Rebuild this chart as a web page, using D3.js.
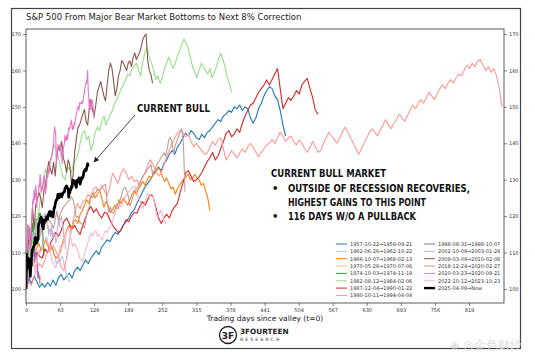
<!DOCTYPE html>
<html>
<head>
<meta charset="utf-8">
<script src="https://cdn.jsdelivr.net/npm/d3@7/dist/d3.min.js"></script>
<style>
html,body{margin:0;padding:0;background:#fff;}
svg{display:block;}
text{font-family:"DejaVu Sans",sans-serif;}
</style>
</head>
<body>
<svg id="chart" width="535" height="361"></svg>
<script>
// ---------------- DATA ----------------
const xTicks=[0,63,126,189,252,315,378,441,504,567,630,693,756,819];
const yTicks=[100,110,120,130,140,150,160,170];
const seriesLabels=[
 "1957-10-22\u21921959-09-21","1962-06-26\u21921962-10-22","1966-10-07\u21921968-02-13","1970-05-26\u21921970-07-06",
 "1974-10-03\u21921974-11-19","1982-08-12\u21921984-02-06","1987-12-04\u21921990-01-22","1990-10-11\u21921994-04-04",
 "1998-08-31\u21921998-10-07","2002-10-09\u21922003-01-24","2009-03-09\u21922010-02-08","2018-12-24\u21922020-02-27",
 "2020-03-23\u21922020-09-21","2022-10-12\u21922023-10-23","2025-04-08\u2192Now"];
// trading days between consecutive samples of each series
const sampleStep=[5,2,4,1,1,4,5,5,1,1,3,3,1,3,1];

const v1957=[100,103,101.5,103.5,102,100.5,101.5,100.5,101.8,100.8,
102.5,101,103,104,102.5,103.5,104.4,103,105,106,
105,106.5,108,107,108.5,109.5,110.5,109.5,111.5,112.5,
113.5,113,114.5,115.5,115,116.2,117.5,118.5,119.5,121,
121.7,123.5,125,126.5,128,129,130,131.5,132.6,133.5,
132.5,134.5,135.4,137,138,137,139,140,141.5,142.8,
142,143.5,142.7,141.5,141,142.5,141.5,143,143.5,144.5,
145.5,146.5,146,147.5,148,149,148.5,150,149.5,150.5,
149,150,149.5,147,145.5,147,149.5,151,153,154.5,
155.5,155,153,152,149,145,142];
const v1962=[100,104,103.5,105,107,106,108.5,110.5,108.5,107.5,
109,110.5,109.5,111,110.5,112,113,112,113.5,114.3,
113,111.5,110.5,111.5,112,111,109.5,108.5,107,107.5,
108.5,107.5,108,109,108.5,107,106,104.5,104,103,102,102.3];
const v1966=[100,103.5,107,110.5,109,111.5,112.5,110.5,112,113.5,
112,110.5,111.5,109.5,108.5,109,110.5,113,114.5,116.5,
117.5,116,118.5,119,118,120.5,121.5,123,124.4,123.5,
125.5,126.5,125,126,127.2,125,122.5,124,123,121,
121.7,123,122,124.5,123.5,125,124,123,124.4,126,
127,126,127.5,128.5,129.5,128.5,130,131,130.5,131.5,
132,133.3,132.6,131,129.5,130.5,129,127.5,128,126,
127.5,128.5,129.5,130,130.8,131.5,130,130.5,131.5,130.5,
130,128.5,129,127,125,121.5];
const v1970=[100,105,107.5,110.5,112.3,111.5,110.5,111.2,109.5,110,108.8,110.5,111.5,112,112.6,110,108,106,106.5,105.5,105.2,104.5,103.8,104.5,103.5,103,103.6,102.5];
const v1974=[100,100.1,104.3,104.1,108.9,112.1,114.2,116.8,112.9,111,111.5,114,118,117,112.8,109.7,112.5,113.2,116.9,119.3,118.7,118.6,117.4,120.6,120,120.8,120.3,120.7,118.3,117.8,116.9,115.4,111.2,109];
const v1982=[100,108,110.5,112.5,115.5,117,122,126.5,130,133,
130.5,134.5,137,139.5,138,136,133.5,131,130,132.5,
133.5,132,134.5,135.5,137,140,142.6,143.5,141,142,
138,140,143,144.5,143.5,146,147.5,145,146.5,148,
149,151,152,153.5,155,156,157.5,159,158.5,160.5,
161,162,160,158.5,162.5,165,166.5,163.5,162,160,
157.5,158.5,156.5,158,160.5,162,163.7,162,160.5,162,
164,165.5,167,168.6,167.5,166,163.5,161,159.5,158,
160,162,161,160,159,160.5,158,159.5,161,163,
164.7,163,161,158,156.5,154];
const v1987=[100,104,106.5,108,110,109,108.5,111,110,112.5,
114,115.5,114.5,116,118.5,119.5,118,116.5,117.5,116,
115,117.5,119.5,121.5,122.6,121,122,120.5,119.5,121,
120.8,119,117.5,116.5,115.5,116,117.5,119,118.5,120,
121,120.8,122.5,124,123,124.5,126,125.3,122.5,119.5,
118,119.5,120.5,119.5,121.5,122.6,123.5,126.5,129,131.8,
132.5,131,129.5,130,130.8,132,133.5,135,136,137.5,
135.4,136.5,138.5,140.5,142.7,143.5,141.8,142.5,144,143,
145.5,147.5,149,150.5,151,152.5,154,155,156,157.4,
156,157.5,159,160.5,155,149.5,151,152.5,151.8,153,
154.5,153.5,156,157,157.8,155,152.5,149,148];
const v1990=[100,102,101,103.5,105.5,107,106,108,110.5,111.5,
112,110.5,109,106,105,108.5,113,117,121,123.5,
122,124,124.4,126,125,127.5,128,126.5,128.5,127,
125.5,128,131.8,130.5,129,131.5,133,132,130,131,
129.5,130,128.5,130.5,132,134,135.5,134,132.5,131,
131.8,134,136.5,138,140,141.5,142.8,143.6,143,141.8,
142.5,140.5,139,140,139,138,137,137.3,139,140.5,
139.5,141,141.5,138.5,135.4,136.5,138,137,136,137.3,
138.5,137.5,139,140,139,137.5,136.3,137.5,138.5,139.5,
140,141,140,141.5,143,142,140.5,141.5,142,140.5,
139.5,141,140,138.5,137.5,139,140.5,139,137.5,138,
140,141.5,143,142,141,140,141.5,143,144.5,143,
141.5,140,138.5,137,138.5,140,141.5,143,144,143,
142,143.5,145,146.5,145,144,145.5,146.5,148,147,
146,147.5,149,150.5,149.5,151,152,151,152.5,154,
153,152,153.5,155,156,155,156.5,157.5,156.5,158,
159,158.5,160,161.5,160.5,162,161,162.5,163,161.5,
160,161,159.5,160.5,158.5,155,150];
const v1998=[100,103.9,103.5,102.6,101.7,106.9,105.1,102.4,105.4,107.6,108.4,109.2,106.4,106.6,107,107.6,111.4,108.9,109.1,109.5,109.6,106.2,103,104.7,103.3,102.9,101.4];
const v2002=[100,103.5,107.5,108.3,113.5,110.7,113.2,113.9,115.8,114.6,
115.4,113.6,115.6,114.6,113.6,114.7,114,116,116.9,117.8,
118.9,116.2,115.2,112.8,113.7,113.6,116.4,117.1,115.9,115.4,
117.7,120.2,119.8,120.1,117.6,120.9,120.5,120.3,118.5,118.1,
116.7,117.4,114.8,116.4,116.5,116.1,114.5,117.2,116.3,114.7,
113.8,115.3,115.5,114.9,114.5,112.7,113.2,113.3,117,117,
119.6,118.8,117.1,119.4,119.4,119.2,119.9,118.2,117.7,116.1,
114.3,113.1,114.2,110.9];
const v2009=[100,111,115,113,122.5,116.3,123,124.5,126.5,125,
122.3,127,128.5,132,135,133,131.5,134.8,131,136.5,
139,138,140.5,136,134.5,132,135.5,134,129.4,131,
137.5,141,144.3,145,146.5,148,149.3,146,145,149.5,
152,149,147.5,150.5,154,155.5,157,155,153,151.6,
156,160,162,160.5,157,153,155,158.5,160,162.7,
162,161,160,162,162.6,161,163.5,164.8,163,164,
164.8,166.5,168.5,169.4,170,162.7,160,158.8,156.5];
const v2018=[100,106.6,104.1,107.5,110.4,111,113.6,112.5,114,115,
116.5,117,118,118.5,119,118.5,117.5,116.7,119,121.4,
119,120.5,121.5,122.5,123,123.6,124,124.5,125.3,124.5,
122.5,119.6,120,118.5,118,117.5,116.7,119.5,121.5,122.5,
125.6,125,126,126.5,127.5,127,127.5,128,128.5,128.7,
124,121,122.5,121,120.8,122,123.5,122,124.5,126,
127.5,128,127,125.5,122.8,124,125.5,126.5,127.5,128,
129.3,130,131,131.5,132,133,133.5,134.2,131.6,132.5,
133.5,134.5,135,136,136.5,137.4,136.5,138.5,141,141.6,
140,137.2,139.5,140.5,142,143,144,140,126.7];
const v2020=[100,109.4,110.6,117.6,113.6,117.4,115.6,110.5,113,111.3,
119.1,118.9,122.9,124.7,123.5,127.2,124.5,125.2,128.5,126.2,
122.4,125.2,125.1,126.8,128.7,128,131.4,130.2,126.6,127.1,
128.2,127.3,128.8,131,131,128.3,126.1,127.5,128,132.1,
130.7,132.9,131.8,132.1,133.8,135.7,135.4,136.1,136.6,137.7,
139.6,139.1,142.8,144.5,143.4,142.6,134.2,135.9,137.1,139.7,
139.2,139.3,138.5,139.4,140,136.3,137.9,134.5,136.5,138.6,
139.3,139.9,142.2,140.6,141.7,140.9,142.4,141,142.9,144.3,
143.8,144.1,145.3,145.6,146.4,144.7,143.8,144.8,143.9,145.6,
145.1,146.2,147.3,147.8,148.7,149.7,149.8,150.2,149,151.1,
150.8,150.8,151.2,151.5,150.9,151.3,151.9,153.4,153.9,155.5,
155.8,156.8,156.5,157.7,160,154.5,153.2,148.9,152,149.3,
149.3,151.3,152,151.3,150.1,148.4,146.7];
const v2022=[100,103,104.9,106,109.1,106,104,108.5,110.6,110,
111.5,112.8,114.1,113,112.4,110,107.5,106.9,105.8,106.5,
108,111.8,111,112.5,114,115.5,116.8,115.5,113,111.6,
112.5,111.5,110.5,108.5,108,107.8,109.5,111,112.5,114,
115.3,114.5,115.5,116,114.5,115,114,113.5,115,116,
115.5,116.5,117,118,119.5,121,122,123.3,123,122.5,
124.4,125,126,126.5,127,127.5,128,128.3,127,125.5,
124.5,123,122.2,123.5,125,126.2,125.5,126,125.9,124,
121.5,119.5,120.5,121.6,120.5,119,117.9];
const v2025=[100,109.5,105.7,107.6,108.5,108.3,105.9,106.0,103.5,106.1,
107.9,110.1,110.9,111.0,111.6,111.8,112.5,114.1,113.4,112.5,
113.0,113.7,113.6,117.3,118.1,118.3,118.7,119.6,119.7,119.2,
117.3,117.3,116.5,118.9,118.2,118.7,118.7,119.1,119.8,119.8,
119.2,120.4,120.5,121.2,120.9,121.3,120.0,121.1,120.1,120.0,
119.8,120.9,122.3,122.3,123.3,123.9,124.5,124.4,125.0,126.0,
125.0,125.0,125.7,126.1,125.6,125.8,125.3,125.7,126.4,126.4,
126.6,126.6,127.6,127.7,128.2,128.3,127.9,127.7,127.2,125.2,
127.1,126.4,127.4,127.3,128.2,127.9,129.4,129.8,129.8,129.5,
129.4,128.7,128.4,127.9,129.8,129.3,129.8,130.1,130.5,129.7,
128.8,129.4,130.5,130.1,130.4,130.7,131.1,132.2,132.2,132.8,
132.6,132.5,133.1,133.8,134.4,133.6];
const seriesValues=[v1957,v1962,v1966,v1970,v1974,v1982,v1987,v1990,v1998,v2002,v2009,v2018,v2020,v2022,v2025];

// ---------------- STYLE ----------------
const seriesColors=["#1f77b4","#aec7e8","#ff7f0e","#ffbb78","#2ca02c","#98df8a","#d62728","#ff9896",
 "#9467bd","#c5b0d5","#8c564b","#c49c94","#e377c2","#f7b6d2","#000000"];

// ---------------- DRAW ----------------
const svg=d3.select("#chart");
const X0=26,X1=504,Y0=303,Y1=29;
const x=d3.scaleLinear().domain([0,883.7]).range([X0,X1]);
const y=d3.scaleLinear().domain([96.16,171.37]).range([Y0,Y1]);

// outer frame
svg.append("rect").attr("x",11.5).attr("y",8.5).attr("width",509).attr("height",340)
  .attr("fill","none").attr("stroke","#444").attr("stroke-width",1.2);

// title
svg.append("text").attr("x",26).attr("y",19.5).attr("font-size",8.5).attr("fill","#222")
  .text("S&P 500 From Major Bear Market Bottoms to Next 8% Correction");

svg.append("defs").append("clipPath").attr("id","plotclip").append("rect")
  .attr("x",X0).attr("y",Y1).attr("width",X1-X0).attr("height",Y0-Y1);

const g=svg.append("g").attr("clip-path","url(#plotclip)");
const line=d3.line().x(d=>x(d[0])).y(d=>y(d[1]));
seriesValues.forEach((vals,i)=>{
  const pts=vals.map((v,j)=>[j*sampleStep[i],v]);
  g.append("path").attr("d",line(pts)).attr("fill","none")
   .attr("stroke",seriesColors[i]).attr("stroke-width",i===14?2.7:1.1)
   .attr("stroke-linejoin","round");
});

// axes
function styleAxis(sel){
  sel.select(".domain").remove();
  sel.selectAll("text").attr("font-size",5).attr("font-family","DejaVu Sans").attr("fill","#333");
  sel.selectAll("line").attr("stroke","#333").attr("stroke-width",0.6);
}
svg.append("g").attr("transform",`translate(0,${Y0})`)
  .call(d3.axisBottom(x).tickValues(xTicks).tickSize(3).tickSizeOuter(0).tickPadding(2)).call(styleAxis);
svg.append("g").attr("transform",`translate(${X0},0)`)
  .call(d3.axisLeft(y).tickValues(yTicks).tickFormat(d3.format("d")).tickSize(3).tickSizeOuter(0).tickPadding(2)).call(styleAxis);
svg.append("g").attr("transform",`translate(${X1},0)`)
  .call(d3.axisRight(y).tickValues(yTicks).tickFormat(d3.format("d")).tickSize(3).tickSizeOuter(0).tickPadding(2)).call(styleAxis);
svg.append("rect").attr("x",X0).attr("y",Y1).attr("width",X1-X0).attr("height",Y0-Y1)
  .attr("fill","none").attr("stroke","#333").attr("stroke-width",0.8);

// x label
svg.append("text").attr("x",265).attr("y",321).attr("text-anchor","middle").attr("font-size",7.5).attr("fill","#222")
  .text("Trading days since valley (t=0)");

// legend
const lg=svg.append("g");
seriesLabels.forEach((lab,i)=>{
  const col=i<8?0:1,row=i<8?i:i-8;
  const lx=col?424:336, ly=244+row*7.35;
  lg.append("line").attr("x1",lx).attr("x2",lx+11).attr("y1",ly).attr("y2",ly)
    .attr("stroke",seriesColors[i]).attr("stroke-width",i===14?2.4:1);
  lg.append("text").attr("x",lx+14).attr("y",ly+1.8).attr("font-size",5).attr("fill","#333").text(lab);
});

// annotations
const bold='Lato,"Open Sans",sans-serif';
svg.append("defs").append("marker").attr("id","arr").attr("viewBox","0 0 10 10").attr("refX",9).attr("refY",5)
  .attr("markerWidth",6).attr("markerHeight",6).attr("orient","auto")
  .append("path").attr("d","M0,0 L10,5 L0,10 z").attr("fill","#222");
svg.append("text").attr("x",137).attr("y",111.5).attr("font-family",bold).attr("font-weight",700)
  .attr("font-size",10.2).attr("fill","#111").attr("textLength",73).attr("lengthAdjust","spacingAndGlyphs").text("CURRENT BULL");
svg.append("line").attr("x1",135).attr("y1",115).attr("x2",94).attr("y2",162)
  .attr("stroke","#333").attr("stroke-width",0.9).attr("marker-end","url(#arr)");

// [bullet, text, x, baseline y, rendered width]
const notes=[["","CURRENT BULL MARKET",271,177,115],["\u2022","OUTSIDE OF RECESSION RECOVERIES,",288,192,182],
  ["","HIGHEST GAINS TO THIS POINT",288,206,138],["\u2022","116 DAYS W/O A PULLBACK",288,220,128]];
notes.forEach(n=>{
  if(n[0]) svg.append("text").attr("x",272).attr("y",n[3]).attr("font-family",bold).attr("font-weight",700)
    .attr("font-size",10).attr("fill","#111").text(n[0]);
  svg.append("text").attr("x",n[2]).attr("y",n[3]).attr("font-family",bold).attr("font-weight",700)
    .attr("font-size",10).attr("fill","#111").attr("textLength",n[4]).attr("lengthAdjust","spacingAndGlyphs").text(n[1]);
});

// logo
svg.append("circle").attr("cx",228).attr("cy",335).attr("r",8.5).attr("fill","none").attr("stroke","#222").attr("stroke-width",1.3);
svg.append("text").attr("x",228).attr("y",338.5).attr("text-anchor","middle").attr("font-weight",700)
  .attr("font-size",9).attr("fill","#222").text("3F");
svg.append("text").attr("x",240).attr("y",334).attr("font-weight",700).attr("font-size",7.3).attr("fill","#222").text("3FOURTEEN");
svg.append("text").attr("x",240).attr("y",340.5).attr("font-size",4.6).attr("letter-spacing",2.1).attr("fill","#333").text("RESEARCH");

// watermark
svg.append("text").attr("x",450).attr("y",349).attr("font-family",'"Noto Sans CJK SC",sans-serif').attr("font-size",12)
  .attr("fill","#dcdcdc").text("\u25C8 \u25CE\u91D1\u8272\u8D22\u7ECF");
</script>
</body>
</html>
